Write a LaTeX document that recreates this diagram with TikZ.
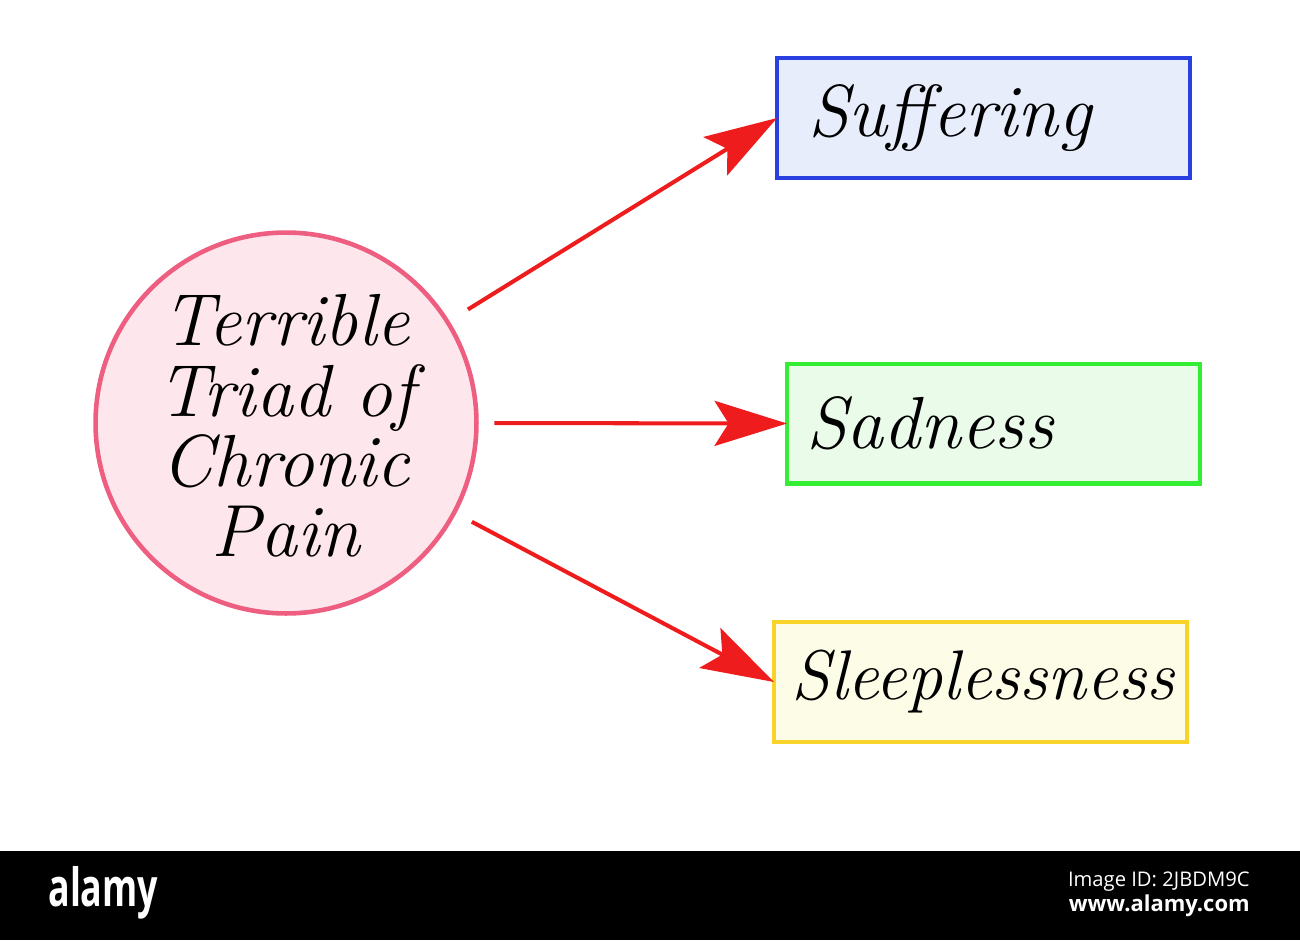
\documentclass[tikz,border=0pt]{standalone}
\usepackage{fontspec}
\newfontfamily\barfont{Open Sans}
\usepackage{xcolor}
\definecolor{PainRed}{HTML}{EE1C1C}
\definecolor{RoseLine}{HTML}{EE5E80}
\definecolor{RoseBg}{HTML}{FDE6EC}
\definecolor{SufLine}{HTML}{2A3FE0}
\definecolor{SufBg}{HTML}{E7EDFB}
\definecolor{SadLine}{HTML}{33EE33}
\definecolor{SadBg}{HTML}{EAFBEA}
\definecolor{SleepLine}{HTML}{F8D42A}
\definecolor{SleepBg}{HTML}{FCFCE7}
\usepackage{tikz}
\usetikzlibrary{arrows.meta,positioning}

\begin{document}
\begin{tikzpicture}[x=0.02cm,y=-0.02cm,
  effbox/.style={draw, line width=2.3pt, minimum width=8.26cm, minimum height=2.4cm, outer sep=0pt},
  effect/.style={font=\fontsize{42}{44}\selectfont\itshape, inner sep=0pt},
  link/.style={draw=PainRed, line width=2.3pt, -{Stealth[length=1.45cm,width=0.9cm,inset=0.28cm]}}]
  \useasboundingbox (0,0) rectangle (1300,940);
  % centre circle
  \node[circle, draw=RoseLine, fill=RoseBg, line width=2.6pt, minimum size=7.62cm, outer sep=0pt] (triad) at (286,423) {};
  \node[align=center, font=\fontsize{42}{40}\selectfont\itshape] (triadtext) at (286,426) {Terrible\\Triad of\\Chronic\\Pain};
  % effect boxes
  \node[effbox, draw=SufLine, fill=SufBg] (suf) at (983.5,118) {};
  \node[effbox, draw=SadLine, fill=SadBg] (sad) at (993.5,423.5) {};
  \node[effbox, draw=SleepLine, fill=SleepBg] (sleep) at (980.5,682) {};
  \node[effect, right=0.62cm of suf.west] (suftext) {Suffering};
  \node[effect, right=0.38cm of sad.west] (sadtext) {Sadness};
  \node[effect, font=\fontsize{40}{44}\selectfont\itshape, right=0.34cm of sleep.west] (sleeptext) {Sleeplessness};
  % arrows
  \draw[link, shorten <=0.48cm] (triad.32) -- (suf.west);
  \draw[link, shorten <=0.36cm] (triad.0) -- (sad.west);
  \draw[link, shorten <=0.40cm] (triad.-28) -- (sleep.west);
  % bottom bar
  \fill[black] (0,851) rectangle (1300,940);
  \node[white, font=\barfont\bfseries\fontsize{30}{32}\selectfont, anchor=west, inner sep=0pt] (logo) at (48,893) {\scalebox{0.68}[1]{alamy}};
  \node[white, font=\barfont\fontsize{11.5}{13}\selectfont, anchor=east, inner sep=0pt] (imgid) at (1250,882) {Image ID: 2JBDM9C};
  \node[white, font=\barfont\bfseries\fontsize{12.5}{14}\selectfont, anchor=east, inner sep=0pt] (site) at (1250,906) {www.alamy.com};
\end{tikzpicture}
\end{document}
